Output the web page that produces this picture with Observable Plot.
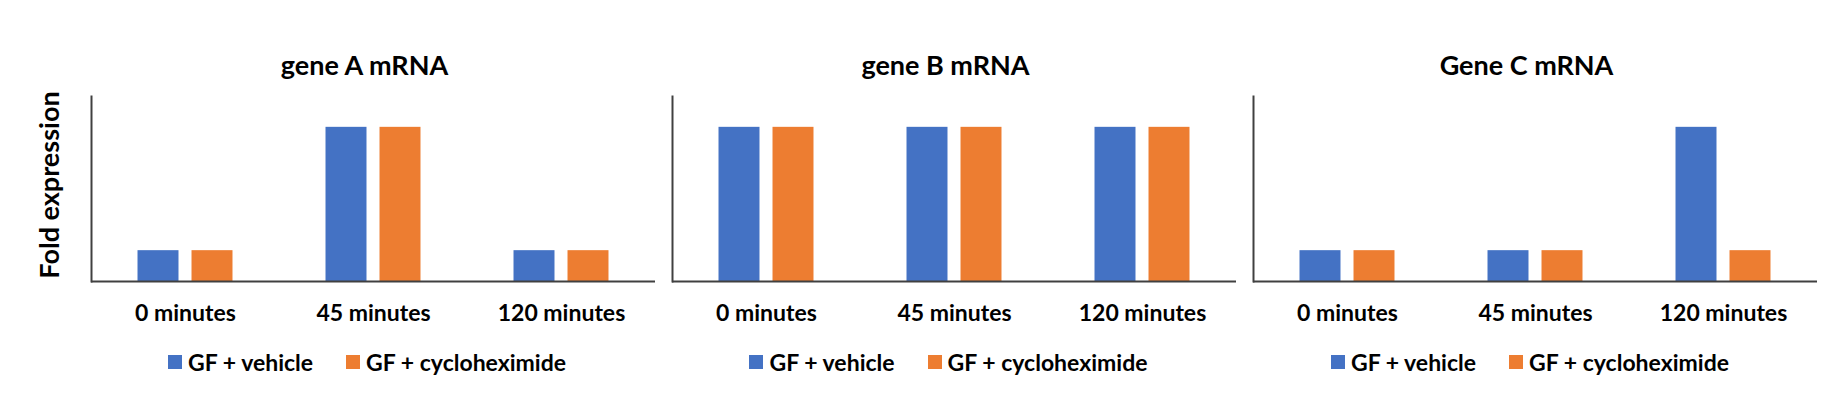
<!DOCTYPE html>
<html>
<head>
<meta charset="utf-8">
<script src="https://cdn.jsdelivr.net/npm/d3@7"></script>
<script src="https://cdn.jsdelivr.net/npm/@observablehq/plot@0.6"></script>
<style>
  html, body { margin: 0; padding: 0; background: #ffffff; }
  body { width: 1840px; height: 404px; overflow: hidden; font-family: Lato, "Open Sans", sans-serif; }
  #legend { position: relative; width: 1840px; height: 69px; }
  .lg { position: absolute; top: 20px; height: 14px; display: flex; justify-content: center; align-items: center;
        font-family: Lato, sans-serif; font-weight: 700; font-size: 23px; line-height: 1; color: #000; }
  .lg .item { display: flex; align-items: center; white-space: nowrap; }
  .lg .item + .item { margin-left: 33px; }
  .lg .sw { width: 14px; height: 14px; margin-right: 6px; }
</style>
</head>
<body>
<div id="chart"></div>
<div id="legend"></div>
<script>
// ---- data ----
const genes = ["gene A mRNA", "gene B mRNA", "Gene C mRNA"];
const times = ["0 minutes", "45 minutes", "120 minutes"];
const series = ["GF + vehicle", "GF + cycloheximide"];
const colors = ["#4472C4", "#ED7D31"];
// fold expression per gene (rows) and time (columns)
const vehicleValues = [
  [1, 5, 1],
  [5, 5, 5],
  [1, 1, 5]
];
const cycloheximideValues = [
  [1, 5, 1],
  [5, 5, 5],
  [1, 1, 1]
];
const yLabel = "Fold expression";

// ---- table ----
const rows = [];
genes.forEach((g, gi) => {
  times.forEach((t, ti) => {
    rows.push({gene: g, time: t, series: series[0], value: vehicleValues[gi][ti]});
    rows.push({gene: g, time: t, series: series[1], value: cycloheximideValues[gi][ti]});
  });
});

// ---- layout ----
const W = 1840, H = 335;
const mL = 90, mR = 23, mT = 96, mB = 54;
const facetPad = 0.03;
const step = (W - mL - mR) / (genes.length - facetPad);
const facetW = step * (1 - facetPad);
const band = facetW / times.length;
const barW = 41, barGap = 13;
const side = (band - 2 * barW - barGap) / 2;
const axisColor = "#404040";

const chart = Plot.plot({
  width: W,
  height: H,
  marginLeft: mL,
  marginRight: mR,
  marginTop: mT,
  marginBottom: mB,
  style: {fontFamily: "Lato, sans-serif", color: "#000", background: "#fff"},
  fx: {domain: genes, paddingInner: facetPad, paddingOuter: 0, axis: null, label: null},
  x: {domain: times, padding: 0, label: null},
  y: {domain: [0, 6], axis: null},
  color: {domain: series, range: colors},
  marks: [
    Plot.barY(rows.filter(d => d.series === series[0]), {
      fx: "gene", x: "time", y: "value", fill: "series",
      insetLeft: side, insetRight: side + barW + barGap
    }),
    Plot.barY(rows.filter(d => d.series === series[1]), {
      fx: "gene", x: "time", y: "value", fill: "series",
      insetLeft: side + barW + barGap, insetRight: side
    }),
    Plot.ruleY([0], {stroke: axisColor, strokeWidth: 2}),
    Plot.frame({anchor: "left", stroke: axisColor, strokeWidth: 2}),
    Plot.axisX({tickSize: 0, tickPadding: 23, fontSize: 23, fontWeight: 700, label: null}),
    Plot.text(genes, {fx: d => d, text: d => d, frameAnchor: "top", dy: -41, dx: -9,
      fontSize: 27, fontWeight: 700, fill: "#000"}),
    Plot.text([yLabel], {fx: () => genes[0], text: d => d, frameAnchor: "left", textAnchor: "middle",
      lineAnchor: "middle", rotate: -90, dx: -41, dy: -4, fontSize: 27, fontWeight: 700, fill: "#000"})
  ]
});
document.getElementById("chart").appendChild(chart);

// ---- legends (one under each panel) ----
const legend = document.getElementById("legend");
genes.forEach((g, gi) => {
  const block = document.createElement("div");
  block.className = "lg";
  block.style.left = (mL + gi * step - 5) + "px";
  block.style.width = facetW + "px";
  series.forEach((s, si) => {
    const item = document.createElement("div");
    item.className = "item";
    const sw = document.createElement("div");
    sw.className = "sw";
    sw.style.background = colors[si];
    const tx = document.createElement("span");
    tx.textContent = s;
    item.appendChild(sw);
    item.appendChild(tx);
    block.appendChild(item);
  });
  legend.appendChild(block);
});
</script>
</body>
</html>
